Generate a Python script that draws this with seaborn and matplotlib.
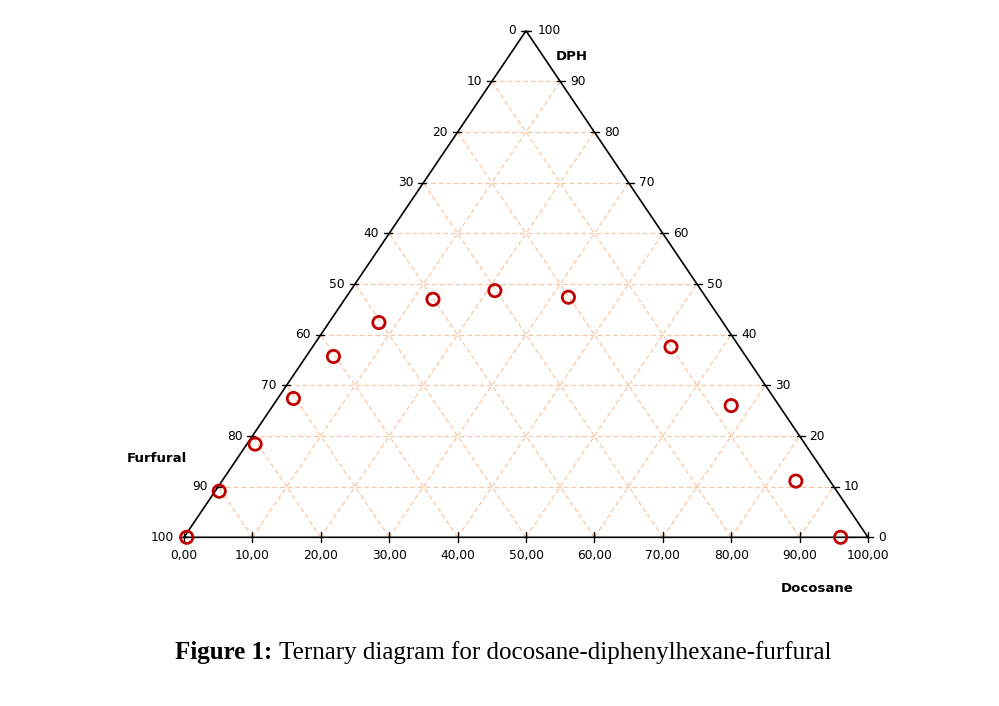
import matplotlib
matplotlib.use("Agg")
import matplotlib.pyplot as plt
import seaborn as sns
import numpy as np
import pandas as pd

# ---- data: mass fractions, %
docosane = [0.4, 0.6, 1.2, 2.3, 4.0, 7.3, 12.9, 21.1, 32.5, 52.4, 67.0, 83.9, 96.0]
dph      = [0.0, 9.1, 18.4, 27.4, 35.7, 42.4, 47.0, 48.7, 47.4, 37.6, 26.0, 11.1, 0.0]
grid_levels = [10, 20, 30, 40, 50, 60, 70, 80, 90]
tick_levels = [0, 10, 20, 30, 40, 50, 60, 70, 80, 90, 100]
bottom_labels = ["0,00", "10,00", "20,00", "30,00", "40,00", "50,00",
                 "60,00", "70,00", "80,00", "90,00", "100,00"]
axis_names = {"top": "DPH", "left": "Furfural", "bottom": "Docosane"}
caption_bold = "Figure 1:"
caption_rest = "Ternary diagram for docosane-diphenylhexane-furfural"

sns.set_theme(style="white")
plt.rcParams["font.family"] = ["DejaVu Sans"]
plt.rcParams["text.color"] = "black"

W, H = 999, 706
fig = plt.figure(figsize=(W / 100, H / 100), dpi=100)
ax = fig.add_axes([0, 0, 1, 1])
ax.set_axis_off()

# pixel <-> ternary-cartesian mapping
X0, SX = 184.0, 6.84
Y0, SY = 537.3, 5.065
ax.set_xlim((0 - X0) / SX, (W - X0) / SX)
ax.set_ylim((Y0 - H) / SY, Y0 / SY)

def tx(d, h):
    return d + h / 2.0

def dpx(n):  # pixel offset -> data units x
    return n / SX

def dpy(n):
    return n / SY

gcol = "#f9c4a0"
gkw = dict(color=gcol, lw=0.85, dashes=(4, 2.5), zorder=1)
for g in grid_levels:
    # constant DPH (horizontal)
    ax.plot([tx(0, g), tx(100 - g, g)], [g, g], **gkw)
    # constant docosane (parallel to left edge)
    ax.plot([tx(g, 0), tx(g, 100 - g)], [0, 100 - g], **gkw)
    # constant furfural (parallel to right edge)
    ax.plot([tx(100 - g, 0), tx(0, 100 - g)], [0, 100 - g], **gkw)

# triangle frame
ax.plot([tx(0, 0), tx(100, 0), tx(0, 100), tx(0, 0)], [0, 0, 100, 0],
        color="black", lw=1.2, zorder=3, solid_joinstyle="miter")

tkw = dict(color="black", lw=1.0, zorder=3)
fs = 8.8
for i, t in enumerate(tick_levels):
    # bottom ticks (docosane)
    ax.plot([t, t], [-dpy(5), dpy(5)], **tkw)
    ax.text(t, -dpy(18), bottom_labels[i], ha="center", va="center",
            fontsize=fs, color="black")
    # left ticks (furfural = 100 - DPH along left edge)
    xl = tx(0, t)
    ax.plot([xl - dpx(5), xl + dpx(3)], [t, t], **tkw)
    # right ticks (DPH)
    xr = tx(100 - t, t)
    ax.plot([xr - dpx(3), xr + dpx(5)], [t, t], **tkw)
    ax.text(xl - dpx(10), t, str(100 - t), ha="right", va="center",
            fontsize=fs, color="black")
    ax.text(xr + dpx(12 if t == 100 else 10), t, str(t), ha="left",
            va="center", fontsize=fs, color="black")

# axis names
ax.text((572 - X0) / SX, (Y0 - 57) / SY, axis_names["top"], ha="center",
        va="center", fontsize=9.5, fontweight="bold", color="black")
ax.text((157 - X0) / SX, (Y0 - 459) / SY, axis_names["left"], ha="center",
        va="center", fontsize=9.5, fontweight="bold", color="black")
ax.text((817 - X0) / SX, (Y0 - 589) / SY, axis_names["bottom"], ha="center",
        va="center", fontsize=9.5, fontweight="bold", color="black")

# data points
df = pd.DataFrame({"x": [tx(d, h) for d, h in zip(docosane, dph)], "y": dph})
sns.scatterplot(data=df, x="x", y="y", ax=ax, marker="o", s=78,
                facecolors="none", edgecolor="#c00000", linewidth=2.0,
                zorder=5, legend=False)
ax.set_xlabel("")
ax.set_ylabel("")
ax.set_axis_off()

# caption
fig.canvas.draw()
r = fig.canvas.get_renderer()
cy = 1 - 659 / H
t1 = fig.text(175 / W, cy, caption_bold, ha="left", va="baseline",
              fontsize=18, fontweight="bold", family=["Liberation Serif"],
              color="black")
bb = t1.get_window_extent(renderer=r)
fig.text((bb.x1 + 7) / W, cy, caption_rest, ha="left", va="baseline",
         fontsize=18, family=["Liberation Serif"], color="black")

fig.savefig("out.png", dpi=100, facecolor="white")
